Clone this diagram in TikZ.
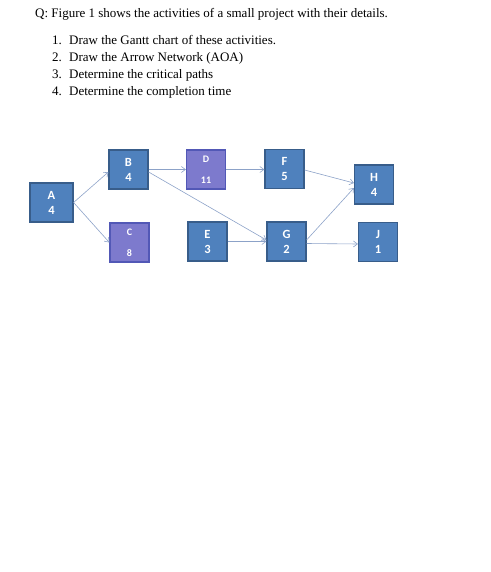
\documentclass[tikz,border=0pt]{standalone}
\usepackage{fontspec}
\setmainfont{Liberation Serif}
\newfontfamily\boxfont{Carlito}
\usetikzlibrary{arrows.meta}
\definecolor{actblue}{RGB}{79,129,189}
\definecolor{actblueline}{RGB}{56,93,138}
\definecolor{actpurple}{RGB}{125,122,205}
\definecolor{actpurpleline}{RGB}{82,88,182}
\definecolor{linkcol}{RGB}{140,162,200}
\begin{document}
\begin{tikzpicture}[x=1pt,y=-1pt,
	bluebox/.style={draw=actblueline,fill=actblue,line width=1.2pt,minimum width=39pt,minimum height=39pt,inner sep=0pt,align=center,text=white,font=\boxfont\bfseries\fontsize{12.5}{15}\selectfont},
	purplebox/.style={bluebox,draw=actpurpleline,fill=actpurple,font=\boxfont\bfseries\fontsize{10}{10}\selectfont},
	link/.style={draw=linkcol,line width=0.6pt,-{Straight Barb[length=4pt,width=6pt]}},
	txt/.style={anchor=base west,inner sep=0pt,font=\fontsize{13}{15}\selectfont}]
	\useasboundingbox (0,0) rectangle (490,572);
	% question
	\node[txt] (q) at (35,18) {Q: Figure 1 shows the activities of a small project with their details.};
	\node[txt] (n1) at (52,45) {1.}; \node[txt] (t1) at (69,45) {Draw the Gantt chart of these activities.};
	\node[txt] (n2) at (52,62) {2.}; \node[txt] (t2) at (69,62) {Draw the Arrow Network (AOA)};
	\node[txt] (n3) at (52,79) {3.}; \node[txt] (t3) at (69,79) {Determine the critical paths};
	\node[txt] (n4) at (52,96) {4.}; \node[txt] (t4) at (69,96) {Determine the completion time};
	% activities
	\node[bluebox,minimum width=43pt] (A) at (51.5,202.5) {A\\4};
	\node[bluebox] (B) at (128.5,169.5) {B\\4};
	\node[purplebox] (C) at (129.5,242.5) {C\\[11pt]8};
	\node[purplebox] (D) at (206,169.5) {D\\[11pt]11};
	\node[bluebox] (E) at (207.5,241.5) {E\\3};
	\node[bluebox] (F) at (284.5,169) {F\\5};
	\node[bluebox] (G) at (286.5,241.5) {G\\2};
	\node[bluebox] (H) at (374,184.5) {H\\4};
	\node[bluebox] (J) at (378,242) {J\\1};
	% links
	\draw[link] (A.east) -- ([yshift=-2.5pt]B.west);
	\draw[link] (A.east) -- (C.west);
	\draw[link] (B.east) -- (D.west);
	\draw[link] ([yshift=-2.5pt]B.east) -- ([yshift=1.5pt]G.west);
	\draw[link] (D.east) -- ([yshift=-0.5pt]F.west);
	\draw[link] (E.east) -- (G.west);
	\draw[link] ([yshift=-1pt]F.east) -- ([yshift=1.5pt]H.west);
	\draw[link] ([yshift=1.5pt]G.east) -- ([yshift=-3.5pt]H.west);
	\draw[link] ([yshift=-2pt]G.east) -- ([yshift=-2pt]J.west);
\end{tikzpicture}
\end{document}
